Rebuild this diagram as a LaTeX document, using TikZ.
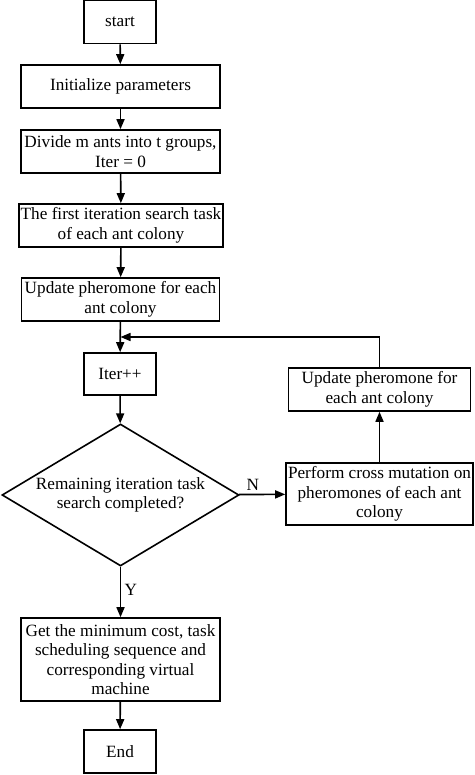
\documentclass[tikz,border=0pt]{standalone}
\usepackage{fontspec}
\setmainfont{Liberation Serif}
\usetikzlibrary{shapes.geometric, arrows.meta}

\begin{document}
\begin{tikzpicture}[x=1pt, y=-1pt,
    box/.style={draw, line width=1.6pt, align=center, inner sep=2pt,
        font=\fontsize{17.2}{19.5}\selectfont},
    decision/.style={box, diamond, inner sep=0pt, aspect=1.67,
        minimum width=237pt, minimum height=142pt},
    arr/.style={-{Triangle[length=10pt,width=8pt]}, line width=1.6pt},
    lbl/.style={font=\fontsize{17.2}{19.5}\selectfont}]
        \useasboundingbox (0,0) rectangle (474,775);
        \node[box, minimum width=72pt, minimum height=43pt] (start) at (120,22) {start};
        \node[box, minimum width=199pt, minimum height=43pt] (init) at (120.5,86.5) {Initialize parameters};
        \node[box, minimum width=199pt, minimum height=43pt] (divide) at (120.5,151.5) {Divide m ants into t groups,\\ Iter = 0};
        \node[box, minimum width=198pt, minimum height=43pt] (first) at (121,225.5) {The first iteration search task\\ of each ant colony};
        \node[box, minimum width=198pt, minimum height=43pt] (update) at (120.5,299.5) {Update pheromone for each\\ ant colony};
        \node[box, minimum width=72pt, minimum height=42pt] (iter) at (120,374) {Iter++};
        \node[decision] (check) at (120.5,495) {Remaining iteration task\\ search completed?};
        \node[box, minimum width=183pt, minimum height=62pt] (cross) at (379.5,494) {Perform cross mutation on\\ pheromones of each ant\\ colony};
        \node[box, minimum width=182pt, minimum height=43pt] (reupdate) at (379.5,389.5) {Update pheromone for\\ each ant colony};
        \node[box, minimum width=199pt, minimum height=83pt] (best) at (120.5,659.5) {Get the minimum cost, task\\ scheduling sequence and\\ corresponding virtual\\ machine};
        \node[box, minimum width=72pt, minimum height=43pt] (finish) at (120,751.5) {End};
        \coordinate (join) at (120.5,337);

        \foreach \a/\b in {start/init, init/divide, divide/first, first/update, update/iter, iter/check, cross/reupdate, best/finish} {
        \draw[arr] (\a) -- (\b);
        }
        \draw[arr] (check) -- node[lbl, above, pos=0.3] (no) {N} (cross);
        \draw[arr] (check) -- node[lbl, right, pos=0.45] (yes) {Y} (best);
        \draw[arr] (reupdate.north) |- (join);

    \end{tikzpicture}
\end{document}
